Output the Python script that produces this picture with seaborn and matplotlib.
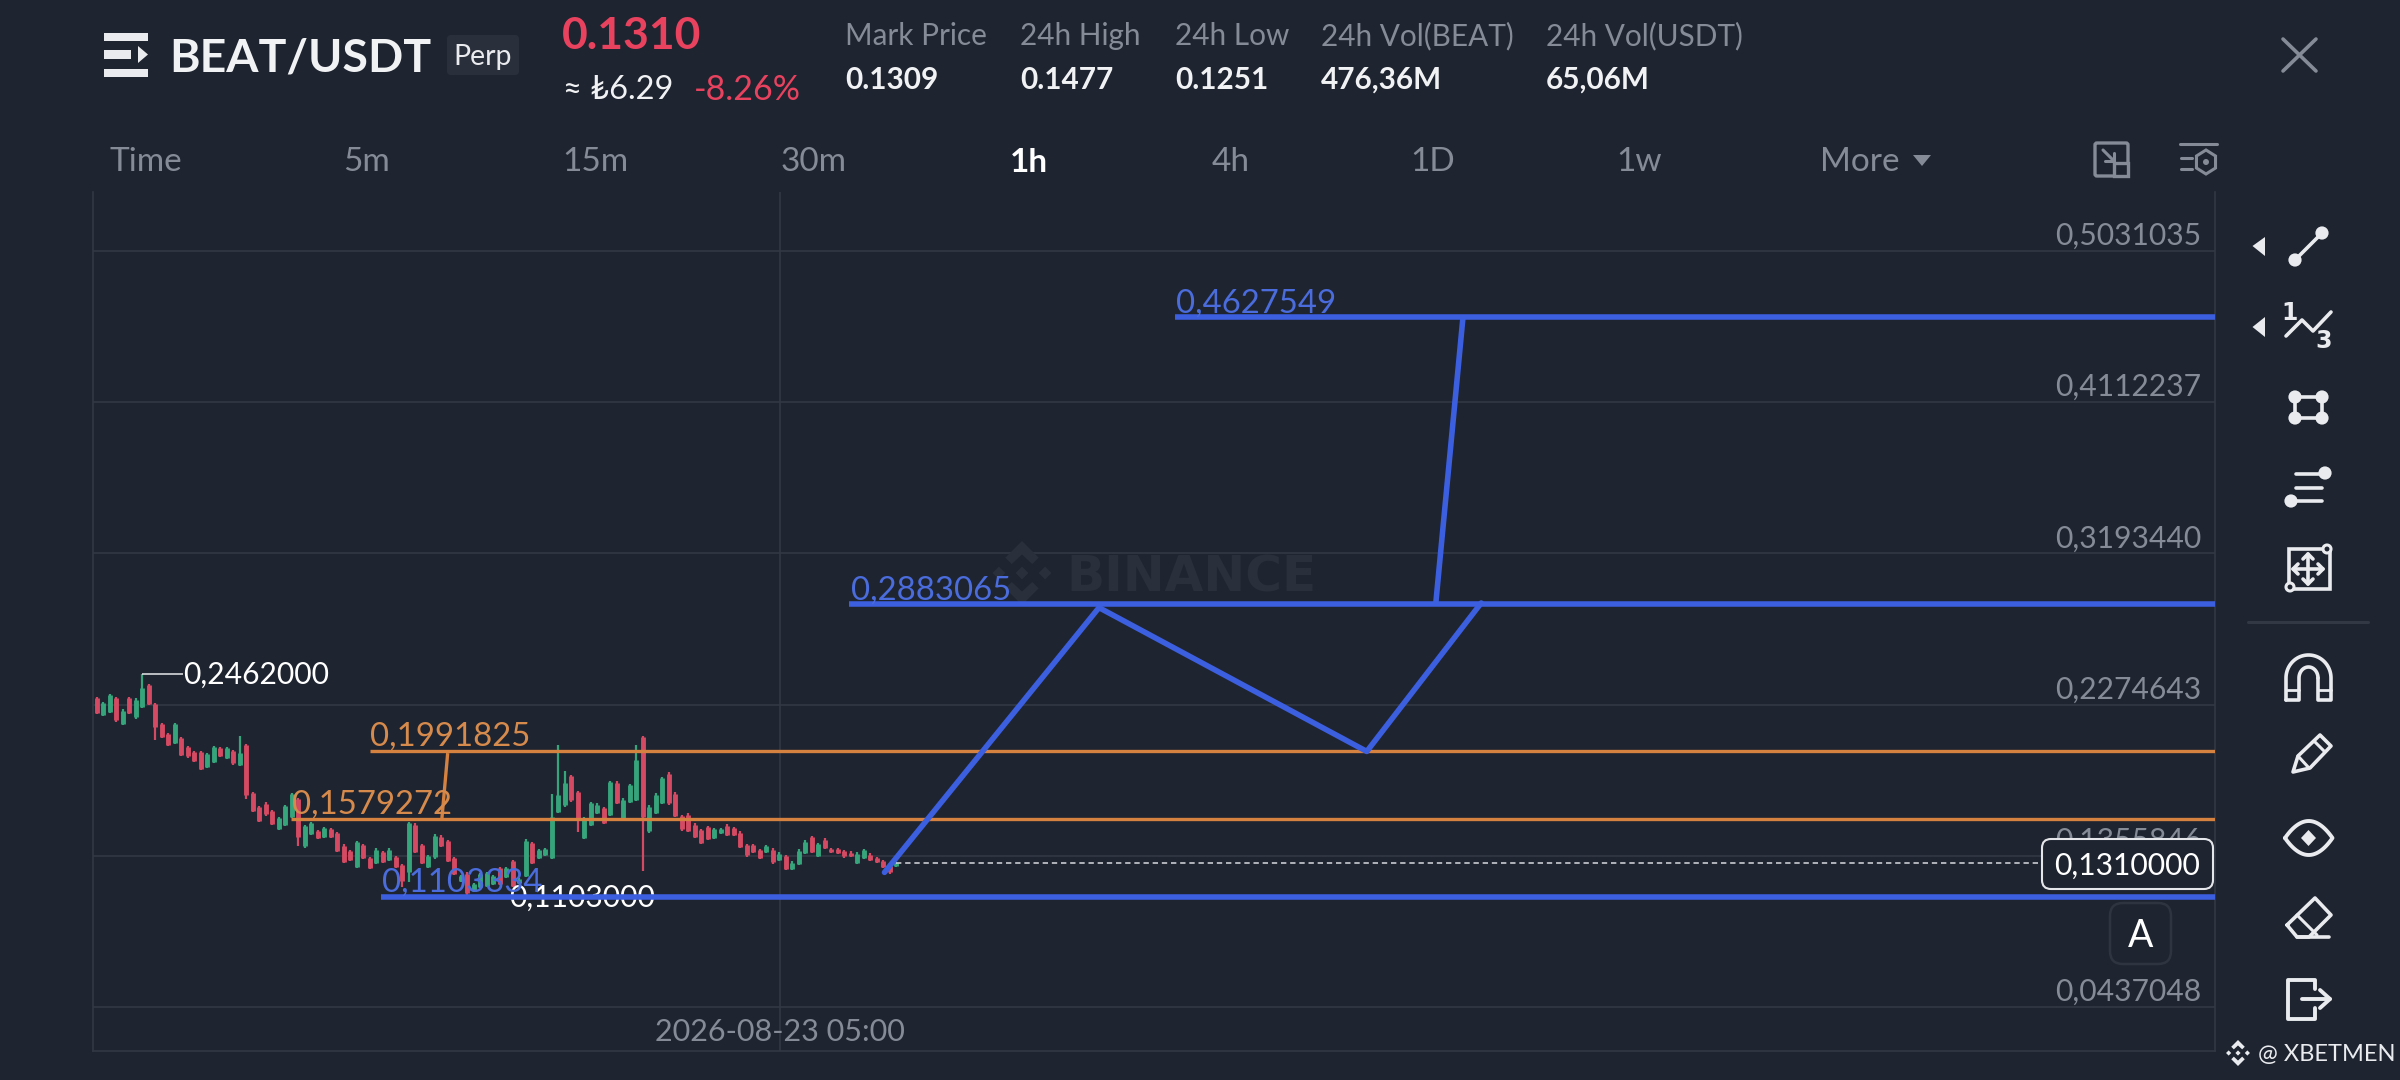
import numpy as np
import pandas as pd
import matplotlib.pyplot as plt
import seaborn as sns
from matplotlib.lines import Line2D
from matplotlib.patches import Circle, FancyBboxPatch, Polygon, Rectangle
from matplotlib.transforms import ScaledTranslation

# candle values, one per bar
candle_high = [.2323,.2293,.2337,.2323,.2246,.2323,.2313,.2462,.2400,.2282,.2161,.2104,.2161,.2080,.2023,.1995,.1995,.1983,.2023,.2015,.2015,.1999,.2084,.2035,.1746,.1661,.1681,.1634,.1594,.1665,.1740,.1705,.1543,.1563,.1513,.1533,.1527,.1500,.1426,.1391,.1446,.1428,.1351,.1401,.1387,.1401,.1357,.1304,.1563,.1553,.1428,.1361,.1486,.1480,.1452,.1349,.1239,.1255,.1191,.1251,.1257,.1239,.1288,.1288,.1330,.1221,.1456,.1442,.1397,.1405,.1729,.2027,.1871,.1849,.1752,.1590,.1683,.1675,.1652,.1810,.1808,.1705,.1792,.2027,.2084,.1663,.1735,.1837,.1863,.1742,.1604,.1614,.1553,.1519,.1539,.1525,.1525,.1547,.1533,.1505,.1428,.1428,.1397,.1421,.1401,.1377,.1361,.1322,.1395,.1450,.1478,.1436,.1462,.1405,.1405,.1391,.1383,.1377,.1399,.1371,.1351,.1330,.1300,.1320]
candle_low = [.2218,.2205,.2222,.2171,.2149,.2218,.2189,.2252,.2270,.2060,.2070,.2023,.2035,.1960,.1952,.1926,.1877,.1889,.1918,.1954,.1946,.1910,.1902,.1700,.1622,.1563,.1600,.1545,.1513,.1537,.1584,.1417,.1405,.1482,.1458,.1462,.1464,.1379,.1310,.1322,.1282,.1336,.1274,.1306,.1310,.1326,.1280,.1168,.1195,.1371,.1306,.1282,.1338,.1411,.1320,.1239,.1197,.1112,.1136,.1160,.1166,.1178,.1178,.1221,.1166,.1185,.1229,.1306,.1338,.1357,.1336,.1618,.1654,.1685,.1502,.1460,.1537,.1608,.1551,.1598,.1669,.1581,.1679,.1687,.1266,.1496,.1608,.1670,.1667,.1590,.1509,.1500,.1466,.1428,.1452,.1458,.1486,.1476,.1476,.1401,.1351,.1375,.1334,.1371,.1308,.1324,.1268,.1270,.1300,.1367,.1375,.1347,.1397,.1373,.1365,.1345,.1349,.1308,.1338,.1326,.1310,.1280,.1247,.1290]
candle_open = [.2315,.2212,.2230,.2315,.2156,.2315,.2197,.2260,.2392,.2276,.2154,.2097,.2043,.2073,.2016,.1988,.1988,.1897,.1925,.2008,.1953,.1992,.1909,.2028,.1738,.1653,.1673,.1627,.1520,.1545,.1591,.1698,.1413,.1490,.1505,.1470,.1520,.1493,.1418,.1384,.1290,.1420,.1343,.1313,.1380,.1333,.1349,.1297,.1259,.1545,.1420,.1289,.1346,.1472,.1444,.1341,.1204,.1248,.1143,.1168,.1173,.1185,.1280,.1228,.1322,.1190,.1235,.1434,.1345,.1363,.1343,.1625,.1662,.1841,.1744,.1467,.1544,.1615,.1644,.1605,.1800,.1588,.1685,.1692,.2079,.1504,.1615,.1677,.1855,.1734,.1596,.1606,.1545,.1511,.1531,.1465,.1492,.1539,.1525,.1497,.1420,.1420,.1389,.1378,.1393,.1331,.1353,.1277,.1307,.1374,.1470,.1353,.1454,.1397,.1397,.1383,.1375,.1315,.1345,.1363,.1343,.1322,.1292,.1296]
candle_close = [.2226,.2285,.2330,.2180,.2238,.2226,.2305,.2374,.2278,.2137,.2078,.2030,.2154,.1968,.1960,.1933,.1885,.1975,.2016,.1961,.2008,.1917,.1979,.1725,.1630,.1570,.1607,.1552,.1586,.1657,.1732,.1472,.1535,.1555,.1465,.1525,.1471,.1386,.1317,.1329,.1438,.1343,.1281,.1393,.1317,.1393,.1287,.1200,.1555,.1378,.1313,.1353,.1478,.1418,.1327,.1246,.1232,.1130,.1184,.1244,.1250,.1232,.1185,.1281,.1173,.1214,.1448,.1313,.1390,.1398,.1594,.1725,.1796,.1692,.1573,.1582,.1675,.1667,.1558,.1802,.1675,.1697,.1784,.1938,.1594,.1655,.1727,.1829,.1674,.1596,.1516,.1507,.1473,.1435,.1459,.1517,.1517,.1483,.1483,.1408,.1358,.1382,.1341,.1413,.1316,.1369,.1276,.1314,.1387,.1442,.1382,.1428,.1404,.1380,.1372,.1352,.1356,.1369,.1391,.1333,.1318,.1287,.1255,.1312]

axis_prices = [0.5031035, 0.4112237, 0.3193440, 0.2274643, 0.1355846, 0.0437048]
last_price = 0.1310

# horizontal levels drawn on the chart: price, first bar
blue_levels = [0.4627549, 0.2883065, 0.1103334]
blue_starts = [165.9, 115.8, 43.7]
orange_levels = [0.1991825, 0.1579272]
orange_starts = [42.0, 29.9]

# hand drawn forecast path
path_bar = [121.2, 154.2, 195.4, 213.0]
path_price = [0.1255, 0.2864, 0.1990, 0.2892]
jump_bar = [206.0, 210.2]
jump_price = [0.2883, 0.4628]
link_bar = [54.0, 53.1]
link_price = [0.1980, 0.1579]

BG = '#1e2430'
GRID = '#333944'
GREY = '#858c97'
SOFT = '#e9ebee'
BLUE = '#3c5fe0'
BLUE_TXT = '#4a6cdc'
ORANGE = '#d5813f'
ORANGE_TXT = '#d68a4c'
UP = '#37a57c'
DOWN = '#d54a63'
HEAD_RED = '#e9425f'

sns.set_theme(style='dark', rc={
    'figure.facecolor': BG, 'axes.facecolor': BG, 'savefig.facecolor': BG,
    'axes.edgecolor': GRID, 'lines.solid_capstyle': 'butt',
})
plt.rcParams['font.family'] = ['Lato', 'DejaVu Sans']

fig = plt.figure(figsize=(24, 10.8), dpi=100)
ax = fig.add_axes([93 / 2400, 1 - 1051 / 1080, 2122 / 2400, 859 / 1080])
ax.set_xlim(-0.57, 325.9)
ax.set_ylim(0.01697, 0.53896)

# chrome layer works in screen pixels
ui = fig.add_axes([0, 0, 1, 1], zorder=5)
ui.set_xlim(0, 2400)
ui.set_ylim(1080, 0)
ui.axis('off')
ui.patch.set_alpha(0)

# candles
bars = pd.DataFrame({'bar': np.arange(len(candle_high)), 'high': candle_high, 'low': candle_low,
                     'open': candle_open, 'close': candle_close})
bars['side'] = np.where(bars['close'] >= bars['open'], 'up', 'down')
wicks = bars.melt(id_vars=['bar', 'side'], value_vars=['high', 'low'], value_name='price')
bodies = bars.melt(id_vars=['bar', 'side'], value_vars=['open', 'close'], value_name='price')
candle_colors = {'up': UP, 'down': DOWN}
sns.lineplot(data=wicks, x='bar', y='price', hue='side', units='bar', estimator=None, palette=candle_colors,
             linewidth=1.6, legend=False, ax=ax, zorder=2)
sns.lineplot(data=bodies, x='bar', y='price', hue='side', units='bar', estimator=None, palette=candle_colors,
             linewidth=3.5, legend=False, ax=ax, zorder=2)

# levels and drawings
xmax = ax.get_xlim()[1]
for level, start in zip(orange_levels, orange_starts):
    sns.lineplot(x=[start, xmax], y=[level, level], color=ORANGE, linewidth=2.4, ax=ax, zorder=4)
for level, start in zip(blue_levels, blue_starts):
    sns.lineplot(x=[start, xmax], y=[level, level], color=BLUE, linewidth=4.0, ax=ax, zorder=4)
sns.lineplot(x=link_bar, y=link_price, color=ORANGE, linewidth=2.4, ax=ax, zorder=4, sort=False, estimator=None)
sns.lineplot(x=path_bar, y=path_price, color=BLUE, linewidth=4.0, ax=ax, zorder=4, sort=False, estimator=None,
             solid_capstyle='round', solid_joinstyle='round')
sns.lineplot(x=jump_bar, y=jump_price, color=BLUE, linewidth=4.0, ax=ax, zorder=4, sort=False, estimator=None)
ax.plot([123, xmax], [last_price, last_price], color='#d8dade', lw=1.1, ls=(0, (3.5, 2.5)), zorder=3)

# high / low markers
ax.plot([7, 13.2], [0.2462, 0.2462], color='#e6e8eb', lw=1.1, zorder=3)
ax.text(13.3, 0.2457, '0,2462000', color='white', fontsize=21.6, va='center', zorder=3)
ax.text(63.5, 0.1100, '0,1103000', color='white', fontsize=21.6, va='center', zorder=3)

for level, start in zip(blue_levels, blue_starts):
    ax.text(start + 0.2, level - 0.0004, f'{level:.7f}'.replace('.', ','), color=BLUE_TXT, fontsize=23.7,
            va='bottom', zorder=5)
for level, start in zip(orange_levels, orange_starts):
    ax.text(start + 0.1, level - 0.0004, f'{level:.7f}'.replace('.', ','), color=ORANGE_TXT, fontsize=23.7,
            va='bottom', zorder=5)

# axes furniture
ax.set_yticks(axis_prices)
ax.set_yticklabels([f'{p:.7f}'.replace('.', ',') for p in axis_prices])
ax.set_xticks([105.1])
ax.set_xticklabels(['2026-08-23 05:00'])
ax.set_xlabel('')
ax.set_ylabel('')
ax.grid(True, color=GRID, linewidth=1.2)
ax.set_axisbelow(True)
ax.tick_params(axis='y', length=0, left=False, labelleft=False, labelright=True, pad=-9.8, labelsize=21.6, colors=GREY)
ax.tick_params(axis='x', length=0, pad=-24, labelsize=22, colors=GREY)
nudge = ScaledTranslation(0, 0.7 / 72, fig.dpi_scale_trans)
for t in ax.yaxis.get_major_ticks():
    t.label2.set_ha('right')
    t.label2.set_va('bottom')
    t.label2.set_transform(t.label2.get_transform() + nudge)
ax.spines['top'].set_visible(False)
for s in ['left', 'right', 'bottom']:
    ax.spines[s].set_color(GRID)
    ax.spines[s].set_linewidth(1.2)


def label(x, y, s, size, color, weight='normal', ha='left', target=ui, **kw):
    target.text(x, y, s, fontsize=size, color=color, fontweight=weight, ha=ha, va='center', **kw)


def stroke(xs, ys, color=SOFT, lw=2.6, **kw):
    ui.add_line(Line2D(xs, ys, color=color, lw=lw, solid_capstyle='round', solid_joinstyle='round', **kw))


def binance_logo(cx, cy, r, color, host, trans, zorder):
    d = 0.2 * r
    for ox in (-0.72 * r, 0, 0.72 * r):
        host.add_patch(Polygon([(cx + ox - d, cy), (cx + ox, cy - d), (cx + ox + d, cy), (cx + ox, cy + d)],
                               fc=color, ec='none', transform=trans, zorder=zorder, clip_on=False))
    for sign in (-1, 1):
        pts = [(0, r), (0.52 * r, 0.48 * r), (0.32 * r, 0.28 * r), (0, 0.58 * r), (-0.32 * r, 0.28 * r), (-0.52 * r, 0.48 * r)]
        host.add_patch(Polygon([(cx + a, cy + sign * b) for a, b in pts], fc=color, ec='none', transform=trans,
                               zorder=zorder, clip_on=False))


# background watermark
binance_logo(1022, 573, 32, '#2a303b', ax, ui.transData, 1)
ax.text(1066, 578, 'BINANCE', transform=ui.transData, fontsize=36, color='#2a303b', fontweight='bold',
        family='DejaVu Sans', va='center', zorder=1)

# header
for y0, y1 in [(33, 41), (50, 59), (69, 77)]:
    ui.add_patch(Rectangle((104, y0), 44 if y0 != 50 else 27, y1 - y0, fc=SOFT, ec='none'))
ui.add_patch(Polygon([(138, 46), (148, 54.5), (138, 63)], fc=SOFT, ec='none'))
label(169, 58, 'BEAT/USDT', 33.4, '#f1f2f4', 'bold')
ui.add_patch(FancyBboxPatch((450, 38), 66, 34, boxstyle='round,pad=3,rounding_size=4', fc='#2a303b', ec='none'))
label(483, 57, 'Perp', 20.5, SOFT, ha='center')
label(562, 36, '0.1310', 32, HEAD_RED, 'bold')
label(563, 90, '≈ ₺6.29', 23.5, '#f1f2f4')
label(694, 90, '-8.26%', 24.5, HEAD_RED)

stat_x = [845, 1020, 1175, 1321, 1546]
stat_names = ['Mark Price', '24h High', '24h Low', '24h Vol(BEAT)', '24h Vol(USDT)']
stat_vals = ['0.1309', '0.1477', '0.1251', '476,36M', '65,06M']
for x, name, val in zip(stat_x, stat_names, stat_vals):
    label(x, 36, name, 21.4, GREY)
    label(x, 80, val, 21.4, '#f1f2f4', 'bold')
stroke([2283, 2316], [39, 71], color=GREY, lw=2.6)
stroke([2316, 2283], [39, 71], color=GREY, lw=2.6)

# interval tabs
label(110, 162, 'Time', 24, GREY)
tab_x = [367, 595, 814, 1029, 1231, 1433, 1639]
tab_names = ['5m', '15m', '30m', '1h', '4h', '1D', '1w']
for x, name in zip(tab_x, tab_names):
    label(x, 162, name, 24, 'white' if name == '1h' else GREY, 'bold' if name == '1h' else 'normal', ha='center')
label(1860, 162, 'More', 24, GREY, ha='center')
ui.add_patch(Polygon([(1913, 155), (1931, 155), (1922, 166)], fc=GREY, ec='none'))

# top right icons
ui.add_patch(FancyBboxPatch((2095, 143), 33, 33, boxstyle='round,pad=0,rounding_size=2', fc='none', ec=GREY, lw=2.4))
ui.add_patch(Rectangle((2114, 163), 14, 13, fc=BG, ec=GREY, lw=2.4))
stroke([2103, 2114], [150, 161], color=GREY, lw=2.2)
stroke([2114, 2114, 2105], [153, 161, 161], color=GREY, lw=2.2)
stroke([2180, 2217], [144, 144], color=GREY, lw=2.2)
stroke([2181, 2192], [158, 158], color=GREY, lw=2.2)
stroke([2181, 2192], [169, 169], color=GREY, lw=2.2)
angles = np.deg2rad(np.arange(30, 390, 60))
ui.add_patch(Polygon(np.c_[2206 + 11 * np.cos(angles), 162 + 12 * np.sin(angles)], fc='none', ec=GREY, lw=2.2))
ui.add_patch(Circle((2206, 162), 3, fc=GREY, ec='none'))

# price tag and auto button
ui.add_patch(FancyBboxPatch((2046, 843), 163, 42, boxstyle='round,pad=4,rounding_size=9', fc=BG, ec='#e4e6e9', lw=1.5))
label(2127.5, 866, '0,1310000', 21.6, 'white', ha='center')
ui.add_patch(FancyBboxPatch((2113, 906), 55, 55, boxstyle='round,pad=3,rounding_size=13', fc=BG, ec='#2f3540', lw=1.8))
label(2141, 936, 'A', 27, 'white', ha='center')


# toolbar, positions in pixels
def dot(x, y, r=6.6, fc=SOFT, ec='none', lw=0):
    ui.add_patch(Circle((x, y), r, fc=fc, ec=ec, lw=lw))


ui.add_patch(Polygon([(2252.5, 246), (2265, 237), (2265, 256)], fc=SOFT, ec='none'))
stroke([2295, 2322], [260, 233])
dot(2295, 260)
dot(2322, 233)

ui.add_patch(Polygon([(2252.5, 327), (2265, 317), (2265, 337)], fc=SOFT, ec='none'))
stroke([2286, 2302, 2313, 2331], [336, 320, 331, 312])
label(2290, 313, '1', 17, SOFT, 'black', ha='center', family='DejaVu Sans')
label(2324, 341, '3', 17, SOFT, 'black', ha='center', family='DejaVu Sans')

stroke([2295, 2322, 2322, 2295, 2295], [397, 397, 418, 418, 397])
for x, y in [(2295, 397), (2322, 397), (2295, 418), (2322, 418)]:
    dot(x, y)

stroke([2296, 2322], [474, 474])
stroke([2296, 2322], [488, 488])
stroke([2292, 2322], [501, 501])
dot(2325, 473)
dot(2291, 501)

ui.add_patch(Rectangle((2289, 549), 41, 40, fc='none', ec=SOFT, lw=2.6))
dot(2327, 549, r=4, fc=BG, ec=SOFT, lw=2.2)
dot(2290, 587, r=4, fc=BG, ec=SOFT, lw=2.2)
stroke([2293, 2323], [569, 569])
stroke([2308, 2308], [554, 584])
stroke([2303, 2308, 2313], [559, 554, 559])
stroke([2303, 2308, 2313], [579, 584, 579])
stroke([2318, 2323, 2318], [564, 569, 574])
stroke([2298, 2293, 2298], [564, 569, 574])

stroke([2248, 2368], [622, 622], color=GRID, lw=2.2)

# magnet
t = np.linspace(np.pi, 2 * np.pi, 40)
stroke(np.r_[2286, 2286, 2308.5 + 22.5 * np.cos(t), 2331, 2331, 2318, 2318],
       np.r_[700, 678, 678 + 23 * np.sin(t), 678, 700, 700, 678], lw=2.6)
stroke(np.r_[2286, 2299, 2299, 2308.5 + 9.5 * np.cos(t), 2318], np.r_[700, 700, 678, 678 + 11 * np.sin(t), 678], lw=2.6)
stroke([2286, 2299], [690, 690], lw=2)
stroke([2318, 2331], [690, 690], lw=2)

# pencil
ui.add_patch(Polygon([(2293, 772), (2298, 756), (2320, 735), (2331, 746), (2310, 768)], fc='none', ec=SOFT, lw=2.6, joinstyle='round'))
stroke([2314, 2325], [741, 752], lw=2.2)
stroke([2298, 2309], [756, 768], lw=2.2)

# eye
s = np.linspace(0, 1, 30)
ex = 2285 + 47.5 * s
stroke(np.r_[ex, ex[::-1]], np.r_[838 - 34 * s * (1 - s) * 2, 838 + 34 * s[::-1] * (1 - s[::-1]) * 2], lw=2.8)
ui.add_patch(Polygon([(2308.5, 830), (2316, 838), (2308.5, 846), (2301, 838)], fc=SOFT, ec='none'))

# eraser
stroke([2287, 2315, 2331, 2309, 2297, 2287], [925, 898, 915, 937, 937, 925])
stroke([2297, 2329], [937, 937])
stroke([2297, 2317], [915, 935], lw=2.2)

# exit
stroke([2315, 2315, 2288, 2288, 2315, 2315], [989, 980, 980, 1019, 1019, 1008], lw=2.8)
stroke([2302, 2330], [999, 999], lw=2.8)
stroke([2320, 2330, 2320], [990, 999, 1008], lw=2.8)

# bottom right watermark
binance_logo(2238, 1053, 13, SOFT, ui, ui.transData, 3)
label(2258, 1054, '@ XBETMEN', 17, SOFT)

fig.savefig('out.png', dpi=100)
